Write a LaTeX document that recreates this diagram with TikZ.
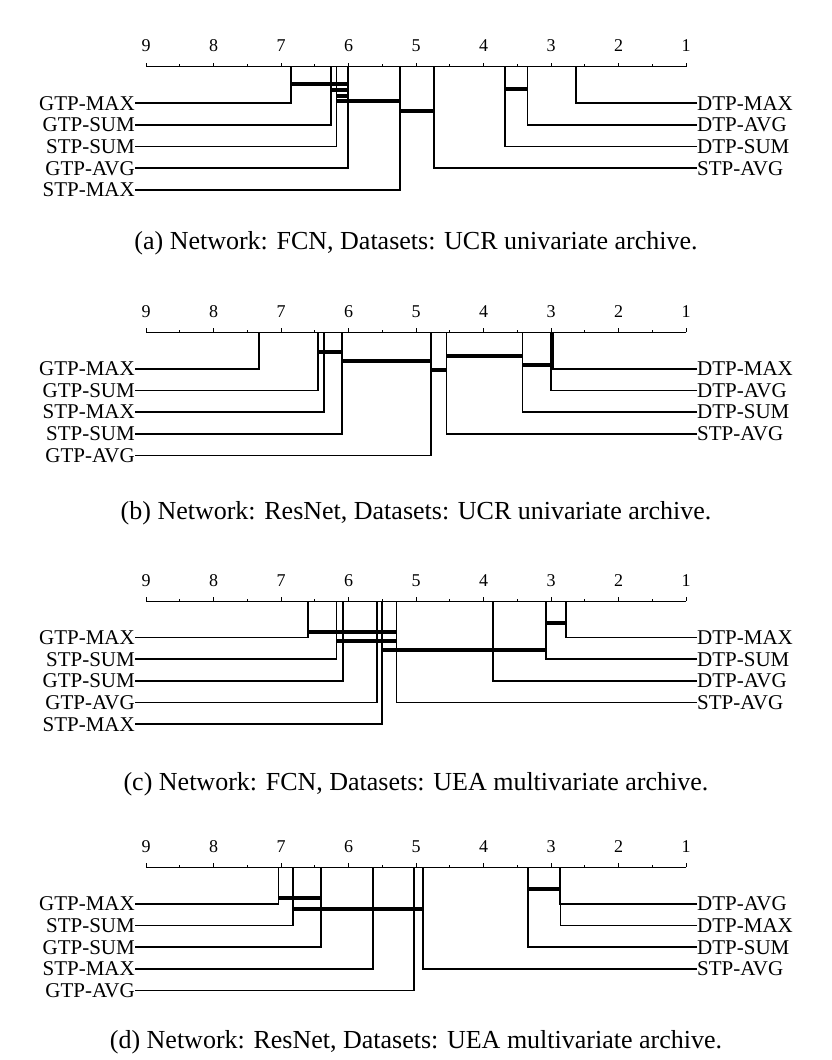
\documentclass[tikz,border=0pt]{standalone}
\usepackage{fontspec}
\setmainfont{Liberation Serif}
\newcommand\rk[1]{{146+(9-#1)*67.5}}
\newcommand\cdpanel[4]{%
  \draw[axisline] (146,#1) -- (686,#1);
  \foreach \i in {1,...,9} {
    \draw[axisline] ({146+(9-\i)*67.5},#1) -- ++(0,-4);
    \node[num] (#2n\i) at ({146+(9-\i)*67.5},#1-15) {\i};
  }
  \foreach \i in {1.5,2.5,...,8.5} \draw[axisline] ({146+(9-\i)*67.5},#1) -- ++(0,-2.5);
  \foreach \n/\r [count=\k] in {#3} {
    \coordinate (#2lt\k) at (\rk{\r},#1);
    \node[lab,anchor=east] (#2l\k) at (135,{#1+36.5+(\k-1)*21.67}) {\n};
    \draw[conn] (#2l\k.east) -| (#2lt\k);
  }
  \foreach \n/\r [count=\k] in {#4} {
    \coordinate (#2rt\k) at (\rk{\r},#1);
    \node[lab,anchor=west] (#2r\k) at (697,{#1+36.5+(\k-1)*21.67}) {\n};
    \draw[conn] (#2r\k.west) -| (#2rt\k);
  }
}
\newcommand\cdbar[4]{\draw[clique] (\rk{#2},#1+#4) -- (\rk{#3},#1+#4);}
\begin{document}
\begin{tikzpicture}[x=1pt,y=-1pt,
  axisline/.style={line width=0.9pt},
  conn/.style={line width=1.6pt},
  clique/.style={line width=4pt},
  lab/.style={font=\fontsize{21}{21}\selectfont,inner sep=0pt},
  num/.style={font=\fontsize{18}{18}\selectfont,inner sep=0pt,anchor=base},
  captxt/.style={font=\fontsize{26}{26}\selectfont,inner sep=0pt}]
\useasboundingbox (0,0) rectangle (832,1060);
% (a)
\cdpanel{66.7}{a}{GTP-MAX/6.85,GTP-SUM/6.26,STP-SUM/6.18,GTP-AVG/6.01,STP-MAX/5.24}{DTP-MAX/2.63,DTP-AVG/3.35,DTP-SUM/3.68,STP-AVG/4.73}
\cdbar{66.7}{6.85}{6.01}{17.7}
\cdbar{66.7}{6.26}{6.01}{23.3}
\cdbar{66.7}{6.18}{6.01}{29.3}
\cdbar{66.7}{6.18}{5.24}{34.3}
\cdbar{66.7}{5.24}{4.73}{44.3}
\cdbar{66.7}{3.68}{3.35}{22.7}
\node[captxt] (capa) at (416,243) {(a) Network: FCN, Datasets: UCR univariate archive.};
% (b)
\cdpanel{332.3}{b}{GTP-MAX/7.33,GTP-SUM/6.45,STP-MAX/6.36,STP-SUM/6.10,GTP-AVG/4.78}{DTP-MAX/2.97,DTP-AVG/3.0,DTP-SUM/3.42,STP-AVG/4.55}
\cdbar{332.3}{6.45}{6.10}{19.3}
\cdbar{332.3}{6.10}{4.78}{28.3}
\cdbar{332.3}{4.78}{4.55}{37.7}
\cdbar{332.3}{4.55}{3.42}{23.7}
\cdbar{332.3}{3.42}{2.97}{32.7}
\node[captxt] (capb) at (416,513) {(b) Network: ResNet, Datasets: UCR univariate archive.};
% (c)
\cdpanel{601}{c}{GTP-MAX/6.60,STP-SUM/6.18,GTP-SUM/6.08,GTP-AVG/5.58,STP-MAX/5.50}{DTP-MAX/2.78,DTP-SUM/3.07,DTP-AVG/3.86,STP-AVG/5.29}
\cdbar{601}{3.07}{2.78}{21.7}
\cdbar{601}{6.60}{5.29}{30.7}
\cdbar{601}{6.18}{5.29}{39.7}
\cdbar{601}{5.50}{3.07}{49}
\node[captxt] (capc) at (416,784) {(c) Network: FCN, Datasets: UEA multivariate archive.};
% (d)
\cdpanel{867.3}{d}{GTP-MAX/7.04,STP-SUM/6.82,GTP-SUM/6.41,STP-MAX/5.64,GTP-AVG/5.03}{DTP-AVG/2.87,DTP-MAX/2.86,DTP-SUM/3.34,STP-AVG/4.90}
\cdbar{867.3}{7.04}{6.41}{31}
\cdbar{867.3}{6.82}{4.90}{41.7}
\cdbar{867.3}{3.34}{2.86}{22}
\node[captxt] (capd) at (416,1042) {(d) Network: ResNet, Datasets: UEA multivariate archive.};
\end{tikzpicture}
\end{document}
